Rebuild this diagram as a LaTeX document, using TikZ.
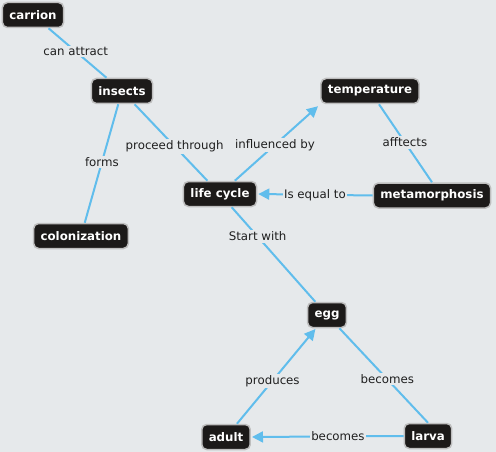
\documentclass[tikz,border=0pt]{standalone}
\usepackage{fontspec}
\setmainfont{DejaVu Sans}
\usepackage{tikz}
\usetikzlibrary{arrows.meta}
\definecolor{bgcolor}{RGB}{230,233,235}
\definecolor{conceptfill}{RGB}{28,26,25}
\definecolor{conceptborder}{RGB}{190,190,190}
\definecolor{linkblue}{RGB}{96,189,236}
\tikzset{
	concept/.style={rectangle, rounded corners=5pt, fill=conceptfill, draw=conceptborder,
        line width=1.5pt, text=white, minimum height=25pt, inner xsep=7pt,
        font=\fontsize{11.8}{14}\selectfont\bfseries},
	link/.style={linkblue, line width=2pt},
	linkArrow/.style={link, -{Triangle[length=11pt,width=11pt]}, shorten >=1pt},
	linkLabel/.style={fill=bgcolor, inner sep=1.5pt, text=black!88,
        font=\fontsize{11.8}{14}\selectfont}
}

\begin{document}
\begin{tikzpicture}[x=1pt,y=-1pt]
\fill [bgcolor] (0,0) rectangle (496,452);
\useasboundingbox (0,0) rectangle (496,452);
        \node [concept] (carrion) at (33,15) {carrion};
        \node [concept] (insects) at (122,91) {insects};
        \node [concept] (colonization) at (81,236) {colonization};
        \node [concept] (lifecycle) at (220,194) {life cycle};
        \node [concept] (temperature) at (370,91) {temperature};
        \node [concept] (metamorphosis) at (432,195.5) {metamorphosis};
        \node [concept] (egg) at (327,315) {egg};
        \node [concept] (adult) at (226,437) {adult};
        \node [concept] (larva) at (428,436) {larva};
\draw [link] (carrion) -- node [linkLabel, pos=.47] {can attract} (insects);
\draw [link] (insects) -- node [linkLabel, pos=.49] {forms} (colonization);
\draw [link] (insects) -- node [linkLabel, pos=.55] {proceed through} (lifecycle);
\draw [linkArrow, shorten >=3pt] (lifecycle) -- node [linkLabel, pos=.47] {influenced by} (temperature.south west);
\draw [link] (temperature) -- node [linkLabel, pos=.49] {afftects} (metamorphosis.north);
\draw [linkArrow] (metamorphosis.west) -- node [linkLabel, pos=.5] {Is equal to} (lifecycle.east);
\draw [link] (lifecycle) -- node [linkLabel, pos=.31] {Start with} (egg);
\draw [link] (egg) -- node [linkLabel, pos=.54] {becomes} (larva.north);
\draw [linkArrow] (larva.west) -- node [linkLabel, pos=.43] {becomes} (adult.east);
\draw [linkArrow] (adult) -- node [linkLabel, pos=.45] {produces} (egg);
\end{tikzpicture}
\end{document}
